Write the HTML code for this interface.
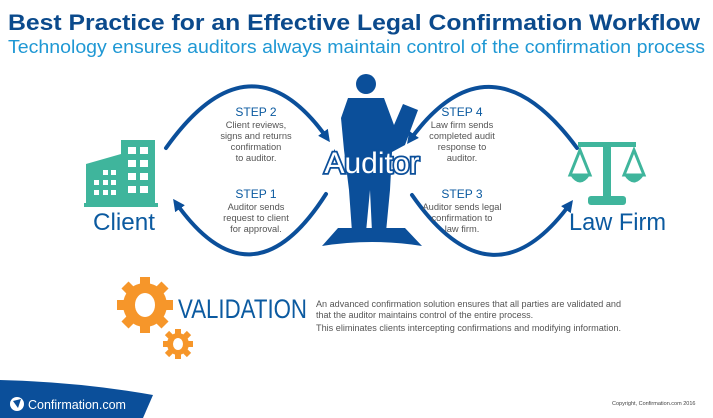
<!DOCTYPE html>
<html><head><meta charset="utf-8"><style>
html,body{margin:0;padding:0;background:#fff;}
svg{display:block;font-family:"Liberation Sans",sans-serif;}
</style></head><body>
<svg width="713" height="418" viewBox="0 0 713 418" xmlns="http://www.w3.org/2000/svg">
<defs>
<marker id="ar" markerWidth="12" markerHeight="12" refX="7" refY="6" orient="auto" markerUnits="userSpaceOnUse">
<path d="M0,0 L12,6 L0,12 Z" fill="#0b4f9a"/></marker>
</defs>
<text x="8" y="30" font-size="22" font-weight="bold" fill="#0b4a8c" textLength="692" lengthAdjust="spacingAndGlyphs">Best Practice for an Effective Legal Confirmation Workflow</text>
<text x="8" y="53" font-size="18" fill="#1f98d4" textLength="697" lengthAdjust="spacingAndGlyphs">Technology ensures auditors always maintain control of the confirmation process</text>

<g fill="none" stroke="#0b4f9a" stroke-width="4" stroke-linecap="round">
<path d="M166,148 Q250,30 327,138" marker-end="url(#ar)"/>
<path d="M326,194 Q252,310 176,203" marker-end="url(#ar)"/>
<path d="M577,148 Q490,30 410,140" marker-end="url(#ar)"/>
<path d="M412,195 Q492,310 570,204" marker-end="url(#ar)"/>
</g>
<g fill="#0b4f9a">
<path d="M322,246 Q372,238 422,246 L405,228 L338,228 Z"/>
<circle cx="366" cy="84" r="10"/>
<path d="M348,98 L384,98 L394,125 L403,104 L418,110 L405,145 L392,152 L390,190 L386,232 L372,232 L370,190 L366,232 L352,232 L349,190 L344,150 L341,118 Z"/>
</g>
<text x="372" y="173" text-anchor="middle" font-size="30" fill="#fff" stroke="#0b4f9a" stroke-width="3.5" paint-order="stroke" textLength="95" lengthAdjust="spacingAndGlyphs">Auditor</text>

<g fill="#3fb59c">
<rect x="121" y="140" width="34" height="65"/>
<path d="M86,164 L121,154 L121,205 L86,205 Z"/>
<rect x="84" y="203" width="74" height="4"/>
</g>
<g fill="#fff">
<rect x="128" y="147" width="8" height="7"/><rect x="140" y="147" width="8" height="7"/>
<rect x="128" y="160" width="8" height="7"/><rect x="140" y="160" width="8" height="7"/>
<rect x="128" y="173" width="8" height="7"/><rect x="140" y="173" width="8" height="7"/>
<rect x="128" y="186" width="8" height="7"/><rect x="140" y="186" width="8" height="7"/>
<rect x="103" y="170" width="5" height="5"/><rect x="111" y="170" width="5" height="5"/>
<rect x="103" y="180" width="5" height="5"/><rect x="111" y="180" width="5" height="5"/>
<rect x="103" y="190" width="5" height="5"/><rect x="111" y="190" width="5" height="5"/>
<rect x="94" y="180" width="5" height="5"/><rect x="94" y="190" width="5" height="5"/>
</g>
<text x="93" y="230" font-size="24" fill="#0b5aa0" textLength="62" lengthAdjust="spacingAndGlyphs">Client</text>

<g fill="#3fb59c" stroke="#3fb59c">
<rect x="603" y="143" width="8" height="55" stroke="none"/>
<rect x="588" y="196" width="38" height="9" rx="3" stroke="none"/>
<rect x="578" y="142" width="58" height="5" stroke="none"/>
<path d="M570,175 L580,150 L590,175 Z" fill="none" stroke-width="3"/>
<path d="M570,175 Q580,190 590,175 Z" stroke="none"/>
<path d="M624,175 L634,150 L644,175 Z" fill="none" stroke-width="3"/>
<path d="M624,175 Q634,190 644,175 Z" stroke="none"/>
</g>
<text x="569" y="230" font-size="24" fill="#0b5aa0" textLength="97" lengthAdjust="spacingAndGlyphs">Law Firm</text>

<g font-size="9.3" fill="#555" text-anchor="middle">
<text x="256" y="116" font-size="12" fill="#0b5aa0">STEP 2</text>
<text x="256" y="128">Client reviews,</text><text x="256" y="139">signs and returns</text><text x="256" y="150">confirmation</text><text x="256" y="161">to auditor.</text>
<text x="256" y="198" font-size="12" fill="#0b5aa0">STEP 1</text>
<text x="256" y="210">Auditor sends</text><text x="256" y="221">request to client</text><text x="256" y="232">for approval.</text>
<text x="462" y="116" font-size="12" fill="#0b5aa0">STEP 4</text>
<text x="462" y="128">Law firm sends</text><text x="462" y="139">completed audit</text><text x="462" y="150">response to</text><text x="462" y="161">auditor.</text>
<text x="462" y="198" font-size="12" fill="#0b5aa0">STEP 3</text>
<text x="462" y="210">Auditor sends legal</text><text x="462" y="221">confirmation to</text><text x="462" y="232">law firm.</text>
</g>

<g fill="#f6962a">
<circle cx="145" cy="305" r="22"/>
<g stroke="#f6962a" stroke-width="10">
<line x1="145" y1="277" x2="145" y2="333"/><line x1="117" y1="305" x2="173" y2="305"/>
<line x1="125" y1="285" x2="165" y2="325"/><line x1="165" y1="285" x2="125" y2="325"/>
</g>
<circle cx="178" cy="344" r="11"/>
<g stroke="#f6962a" stroke-width="6">
<line x1="178" y1="329" x2="178" y2="359"/><line x1="163" y1="344" x2="193" y2="344"/>
<line x1="167" y1="333" x2="189" y2="355"/><line x1="189" y1="333" x2="167" y2="355"/>
</g>
</g>
<ellipse cx="145" cy="305" rx="10" ry="12" fill="#fff"/>
<ellipse cx="178" cy="344" rx="5" ry="6" fill="#fff"/>
<text x="178" y="318" font-size="27" fill="#0b5aa0" textLength="129" lengthAdjust="spacingAndGlyphs">VALIDATION</text>
<g font-size="9" fill="#555">
<text x="316" y="307" textLength="305" lengthAdjust="spacingAndGlyphs">An advanced confirmation solution ensures that all parties are validated and</text>
<text x="316" y="318">that the auditor maintains control of the entire process.</text>
<text x="316" y="331" textLength="305" lengthAdjust="spacingAndGlyphs">This eliminates clients intercepting confirmations and modifying information.</text>
</g>

<path d="M0,380 Q80,382 153,395 L143,418 L0,418 Z" fill="#0b4f9a"/>
<circle cx="17" cy="404" r="7" fill="#fff"/>
<path d="M13,401 L21,399 L18,408 Z" fill="#0b4f9a"/>
<text x="28" y="409" font-size="12.5" fill="#fff">Confirmation.com</text>
<text x="612" y="405" font-size="5.5" fill="#444">Copyright, Confirmation.com 2016</text>
</svg>
</body></html>
